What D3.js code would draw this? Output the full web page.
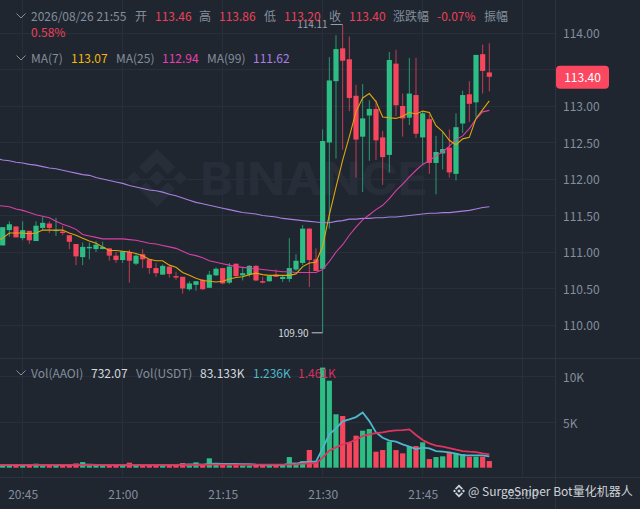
<!DOCTYPE html>
<html><head><meta charset="utf-8">
<script src="https://cdn.jsdelivr.net/npm/d3@7/dist/d3.min.js"></script>
<style>
html,body{margin:0;padding:0;background:#1f2630;overflow:hidden}
svg{display:block}
text{font-family:"Noto Sans CJK SC","Noto Sans",sans-serif;font-size:12px}
</style></head><body>
<svg id="c" width="640" height="509"></svg>
<script>
const open_=[111.09,111.30,111.35,111.19,111.29,111.15,111.33,111.39,111.29,111.28,111.23,111.11,110.93,111.05,111.04,111.04,111.05,110.95,110.89,111.00,110.84,110.97,110.90,110.78,110.69,110.80,110.67,110.66,110.49,110.55,110.62,110.51,110.68,110.78,110.58,110.84,110.68,110.69,110.81,110.60,110.60,110.69,110.63,110.63,110.76,110.85,111.32,110.90,110.77,112.50,113.34,113.79,113.64,113.14,112.58,112.87,112.96,112.57,112.33,113.58,113.00,112.84,113.15,112.57,112.82,112.22,112.35,112.43,112.07,112.76,113.16,113.05,113.71,113.46];
const high=[111.34,111.42,111.35,111.42,111.29,111.42,111.48,111.42,111.47,111.36,111.23,111.11,111.13,111.13,111.15,111.14,111.05,111.00,111.01,111.03,110.97,111.04,110.90,110.85,110.83,110.80,110.73,110.66,110.60,110.60,110.63,110.74,110.79,110.78,110.85,110.84,110.78,110.82,110.82,110.66,110.68,110.76,110.68,111.19,110.97,111.37,111.33,111.05,112.68,113.67,113.97,114.11,113.95,113.29,113.30,113.08,113.08,112.66,113.74,113.77,113.17,113.66,113.66,112.92,112.88,112.59,112.65,112.68,112.90,113.21,113.34,113.70,113.84,113.86];
const low=[111.09,111.21,111.20,111.16,111.11,111.15,111.30,111.26,111.22,111.23,111.04,110.82,110.82,110.90,111.00,111.04,110.88,110.85,110.85,110.58,110.82,110.78,110.70,110.66,110.69,110.65,110.62,110.43,110.47,110.47,110.48,110.51,110.67,110.56,110.56,110.66,110.61,110.66,110.60,110.57,110.59,110.66,110.59,110.59,110.74,110.82,110.52,110.74,109.90,111.32,112.28,112.40,112.93,112.02,111.82,112.25,112.26,111.92,112.09,112.86,112.58,112.74,112.56,112.19,112.07,111.79,112.13,112.02,111.98,112.63,112.78,112.85,113.17,113.20];
const close_=[111.34,111.38,111.20,111.30,111.16,111.36,111.40,111.33,111.30,111.26,111.14,110.94,111.07,111.07,111.10,111.07,110.95,110.89,111.01,110.88,110.95,110.90,110.78,110.71,110.81,110.70,110.65,110.50,110.57,110.60,110.49,110.69,110.77,110.57,110.80,110.67,110.71,110.81,110.61,110.58,110.67,110.66,110.66,110.78,110.88,111.32,110.89,110.74,112.52,113.35,113.78,113.62,113.11,112.54,112.83,112.96,112.53,112.30,113.63,113.01,112.83,113.17,112.62,112.90,112.22,112.37,112.41,112.09,112.71,113.15,113.03,113.70,113.48,113.40];
// the moving averages carry one extra leading value, for the candle just left of the window
const ma7=[111.15,111.19,111.26,111.26,111.26,111.25,111.26,111.30,111.30,111.30,111.30,111.26,111.23,111.19,111.15,111.12,111.07,111.02,111.02,111.01,111.00,110.98,110.95,110.90,110.88,110.88,110.82,110.79,110.72,110.68,110.64,110.61,110.60,110.59,110.60,110.63,110.65,110.66,110.69,110.71,110.69,110.68,110.68,110.68,110.68,110.70,110.80,110.85,110.86,111.08,111.51,111.89,112.26,112.58,112.92,113.11,113.17,113.06,112.85,112.84,112.83,112.86,112.91,112.89,112.93,112.91,112.73,112.65,112.53,112.47,112.55,112.57,112.83,112.95,113.07];
const ma25=[111.64,111.63,111.62,111.59,111.57,111.54,111.51,111.49,111.47,111.42,111.38,111.35,111.31,111.24,111.22,111.20,111.18,111.18,111.18,111.18,111.17,111.16,111.14,111.12,111.11,111.09,111.07,111.05,111.01,110.97,110.95,110.92,110.88,110.86,110.84,110.82,110.80,110.79,110.78,110.77,110.76,110.75,110.74,110.73,110.73,110.72,110.72,110.72,110.72,110.76,110.87,111.00,111.10,111.23,111.34,111.44,111.51,111.58,111.64,111.73,111.84,111.93,112.03,112.12,112.20,112.25,112.32,112.37,112.45,112.54,112.59,112.69,112.82,112.92,112.94];
const ma99=[112.28,112.26,112.25,112.23,112.22,112.20,112.19,112.17,112.15,112.14,112.12,112.10,112.08,112.06,112.05,112.02,112.00,111.98,111.96,111.94,111.91,111.89,111.87,111.85,111.84,111.82,111.79,111.77,111.74,111.71,111.68,111.66,111.64,111.62,111.60,111.58,111.56,111.54,111.53,111.52,111.50,111.49,111.48,111.46,111.45,111.44,111.43,111.42,111.41,111.40,111.40,111.42,111.43,111.45,111.45,111.46,111.46,111.47,111.47,111.48,111.48,111.49,111.50,111.51,111.52,111.53,111.53,111.54,111.54,111.55,111.56,111.57,111.59,111.61,111.62];
const volume=[260,230,280,210,240,440,220,260,240,200,260,470,620,250,280,230,260,240,280,550,250,230,260,210,240,280,260,510,270,590,300,1030,330,290,260,280,250,230,300,260,280,240,260,1170,320,730,1950,600,11000,9560,5870,5680,2790,3520,4070,4250,1760,1940,2860,1940,1580,2310,2380,2790,950,1170,1250,1690,1580,1500,1210,1210,1210,732];
const volMa7=[280,290,290,285,285,290,300,310,300,290,280,280,300,330,340,320,310,300,300,290,320,320,320,310,300,300,300,310,340,350,360,340,420,440,430,420,410,400,380,340,320,300,300,290,440,460,590,660,660,2120,3660,4320,5090,5310,5560,6060,5120,3880,3290,2970,2860,2560,2310,2050,2200,2120,1830,1760,1680,1540,1350,1350,1350,1350,1236];
const volMa25=[300,300,300,300,300,300,300,300,300,300,300,300,310,310,310,310,310,310,310,310,320,320,320,320,320,320,320,320,320,320,320,320,340,340,340,340,340,340,340,330,330,330,330,330,370,370,440,480,480,1100,1870,2230,2560,2780,3040,3480,3660,3810,3880,4030,4100,4140,4210,3590,3040,2670,2420,2310,2160,1980,1830,1760,1720,1580,1461];
const priceTicks=[110,110.5,111,111.5,112,112.5,113,113.5,114];
const volTicks=[5000,10000];
const timeTickIdx=[3,18,33,48,63,78];
const timeTickLabels=["20:45","21:00","21:15","21:30","21:45","22:00"];

const GREEN="#2ebd85",RED="#f6465d",GRID="#282f3a",MUTED="#848e9c",EDGE="#2d3440";
const svg=d3.select("#c");
const x=d3.scaleLinear().domain([0,73]).range([2.67,489.33]);
const y=d3.scaleLinear().domain([110,114]).range([325,33]);
const yv=d3.scaleLinear().domain([0,10000]).range([467.7,376.7]);
const idx=d3.range(open_.length);

// grid
const grid=svg.append("g").attr("stroke",GRID).attr("stroke-width",1).attr("shape-rendering","crispEdges");
timeTickIdx.forEach(t=>grid.append("line").attr("x1",x(t)).attr("x2",x(t)).attr("y1",0).attr("y2",477));
priceTicks.forEach(t=>grid.append("line").attr("x1",0).attr("x2",555).attr("y1",y(t)).attr("y2",y(t)));
volTicks.forEach(t=>grid.append("line").attr("x1",0).attr("x2",555).attr("y1",yv(t)).attr("y2",yv(t)));
const edge=svg.append("g").attr("stroke",EDGE).attr("shape-rendering","crispEdges");
edge.append("line").attr("x1",555.5).attr("x2",555.5).attr("y1",0).attr("y2",509);
edge.append("line").attr("x1",0).attr("x2",640).attr("y1",358.5).attr("y2",358.5);
edge.append("line").attr("x1",0).attr("x2",640).attr("y1",477.5).attr("y2",477.5);

// watermark
const wm=svg.append("g").attr("fill","#272e39");
const diamond=(cx,cy,r)=>`M${cx-r},${cy}L${cx},${cy-r}L${cx+r},${cy}L${cx},${cy+r}Z`;
const cx=157,cy=178;
wm.append("path").attr("d",diamond(cx,cy,7.5)+diamond(cx-23,cy,6.5)+diamond(cx+23,cy,6.5)
 +`M${cx},${cy-29}L${cx+18},${cy-11}L${cx+11},${cy-4}L${cx},${cy-15}L${cx-11},${cy-4}L${cx-18},${cy-11}Z`
 +`M${cx},${cy+29}L${cx+18},${cy+11}L${cx+11},${cy+4}L${cx},${cy+15}L${cx-11},${cy+4}L${cx-18},${cy+11}Z`);
wm.append("text").attr("x",200).attr("y",195).attr("textLength",228).attr("lengthAdjust","spacingAndGlyphs")
  .style("font-size","45px").style("font-weight","700")
  .style("font-family","Inter,'Liberation Sans',sans-serif").text("BINANCE");

// candles
const gc=svg.append("g");
const col=i=>close_[i]>=open_[i]?GREEN:RED;
gc.selectAll("line").data(idx).join("line")
  .attr("x1",x).attr("x2",x).attr("y1",i=>y(high[i])).attr("y2",i=>y(low[i]))
  .attr("stroke",col).attr("stroke-width",1).attr("stroke-opacity",0.75);
gc.selectAll("rect").data(idx).join("rect")
  .attr("x",i=>x(i)-2.6).attr("width",5.2)
  .attr("y",i=>y(Math.max(open_[i],close_[i])))
  .attr("height",i=>Math.max(1,Math.abs(y(open_[i])-y(close_[i]))))
  .attr("fill",col);

// MAs (first value belongs to index -1)
const line=(arr,sc)=>d3.line().x((d,i)=>x(i-1)).y(d=>sc(d))(arr);
[[ma99,"#a97fe0"],[ma25,"#d93fa6"],[ma7,"#e0a60c"]].forEach(([a,c])=>
  svg.append("path").attr("d",line(a,y)).attr("fill","none").attr("stroke",c).attr("stroke-width",1.1));

// hi/lo markers
const markH=51,markL=48;
svg.append("line").attr("x1",x(markH)-12).attr("x2",x(markH)).attr("y1",y(high[markH])-0.5).attr("y2",y(high[markH])-0.5).attr("stroke","#9aa1ab");
svg.append("text").attr("x",x(markH)-15).attr("y",y(high[markH])+3).attr("text-anchor","end").attr("fill","#9aa1ab").style("font-size","10px").text(high[markH].toFixed(2));
svg.append("line").attr("x1",x(markL)-11).attr("x2",x(markL)).attr("y1",y(low[markL])+0.5).attr("y2",y(low[markL])+0.5).attr("stroke","#c6cbd2");
svg.append("text").attr("x",x(markL)-14).attr("y",y(low[markL])+5).attr("text-anchor","end").attr("fill","#d5d9de").style("font-size","10px").text(low[markL].toFixed(2));

// volume
svg.append("g").selectAll("rect").data(idx).join("rect")
  .attr("x",i=>x(i)-2.6).attr("width",5.2)
  .attr("y",i=>yv(volume[i])).attr("height",i=>yv(0)-yv(volume[i]))
  .attr("fill",col);
svg.append("path").attr("d",line(volMa7,yv)).attr("fill","none").attr("stroke","#4fb6cc").attr("stroke-width",1.8);
svg.append("path").attr("d",line(volMa25,yv)).attr("fill","none").attr("stroke","#e0345f").attr("stroke-width",1.8);

// axes
const styleAxis=g=>{g.select(".domain").remove();g.selectAll(".tick line").remove();
  g.selectAll("text").attr("fill",MUTED).style("font-size","12px").style("font-family",'"Noto Sans CJK SC"');};
svg.append("g").attr("transform","translate(563,1)")
  .call(d3.axisRight(y).tickValues(priceTicks).tickFormat(d3.format(".2f")).tickSize(0).tickPadding(0)).call(styleAxis);
svg.append("g").attr("transform","translate(563,1)")
  .call(d3.axisRight(yv).tickValues(volTicks).tickFormat(d=>(d/1000)+"K").tickSize(0).tickPadding(0)).call(styleAxis);
svg.append("g").attr("transform","translate(0,490)")
  .call(d3.axisBottom(x).tickValues(timeTickIdx).tickFormat((d,i)=>timeTickLabels[i]).tickSize(0).tickPadding(0)).call(styleAxis);

// price tag
const last=close_[close_.length-1];
svg.append("rect").attr("x",556).attr("y",y(last)-11).attr("width",53).attr("height",23).attr("rx",4).attr("fill","#fb4760");
svg.append("text").attr("x",582.5).attr("y",y(last)+5).attr("text-anchor","middle").attr("fill","#fff").text(last.toFixed(2));

// legends
const T=(px,py,s,c)=>svg.append("text").attr("x",px).attr("y",py).attr("fill",c).text(s);
const chev=py=>svg.append("path").attr("d",`M16.5,${py-2.5}L21,${py+2}L25.5,${py-2.5}`).attr("fill","none").attr("stroke","#848e9c").attr("stroke-width",1);
const L="#848e9c",R="#ee4058";
chev(16);
T(31,21,"2026/08/26 21:55",L);T(135,21,"开",L);T(155,21,"113.46",R);T(199,21,"高",L);T(219,21,"113.86",R);
T(264,21,"低",L);T(284,21,"113.20",R);T(329,21,"收",L);T(349,21,"113.40",R);T(393,21,"涨跌幅",L);T(437,21,"-0.07%",R);T(484,21,"振幅",L);
T(31,37,"0.58%",R);
chev(58);
T(31,63,"MA(7)",L);T(71,63,"113.07","#f0b90b");T(116,63,"MA(25)",L);T(162,63,"112.94","#e83fad");T(207,63,"MA(99)",L);T(253,63,"111.62","#a97fe0");
chev(373);
T(31,378,"Vol(AAOI)",L);T(91,378,"732.07","#d5d9de");T(136,378,"Vol(USDT)",L);T(200,378,"83.133K","#d5d9de");T(253,378,"1.236K","#4fb6cc");T(298,378,"1.461K","#d6305f");

// credit
const lg=svg.append("g").attr("fill","#d0d3d8");
const lx=459,ly=491;
lg.append("path").attr("d",diamond(lx,ly,1.8)+diamond(lx-4.5,ly,1.5)+diamond(lx+4.5,ly,1.5)
 +`M${lx},${ly-6.5}L${lx+4},${ly-2.5}L${lx+2.8},${ly-1.3}L${lx},${ly-4}L${lx-2.8},${ly-1.3}L${lx-4},${ly-2.5}Z`
 +`M${lx},${ly+6.5}L${lx+4},${ly+2.5}L${lx+2.8},${ly+1.3}L${lx},${ly+4}L${lx-2.8},${ly+1.3}L${lx-4},${ly+2.5}Z`);
svg.append("text").attr("x",468).attr("y",495.5).attr("fill","#cfd3d8").text("@ SurgeSniper Bot量化机器人");
</script>
</body></html>
